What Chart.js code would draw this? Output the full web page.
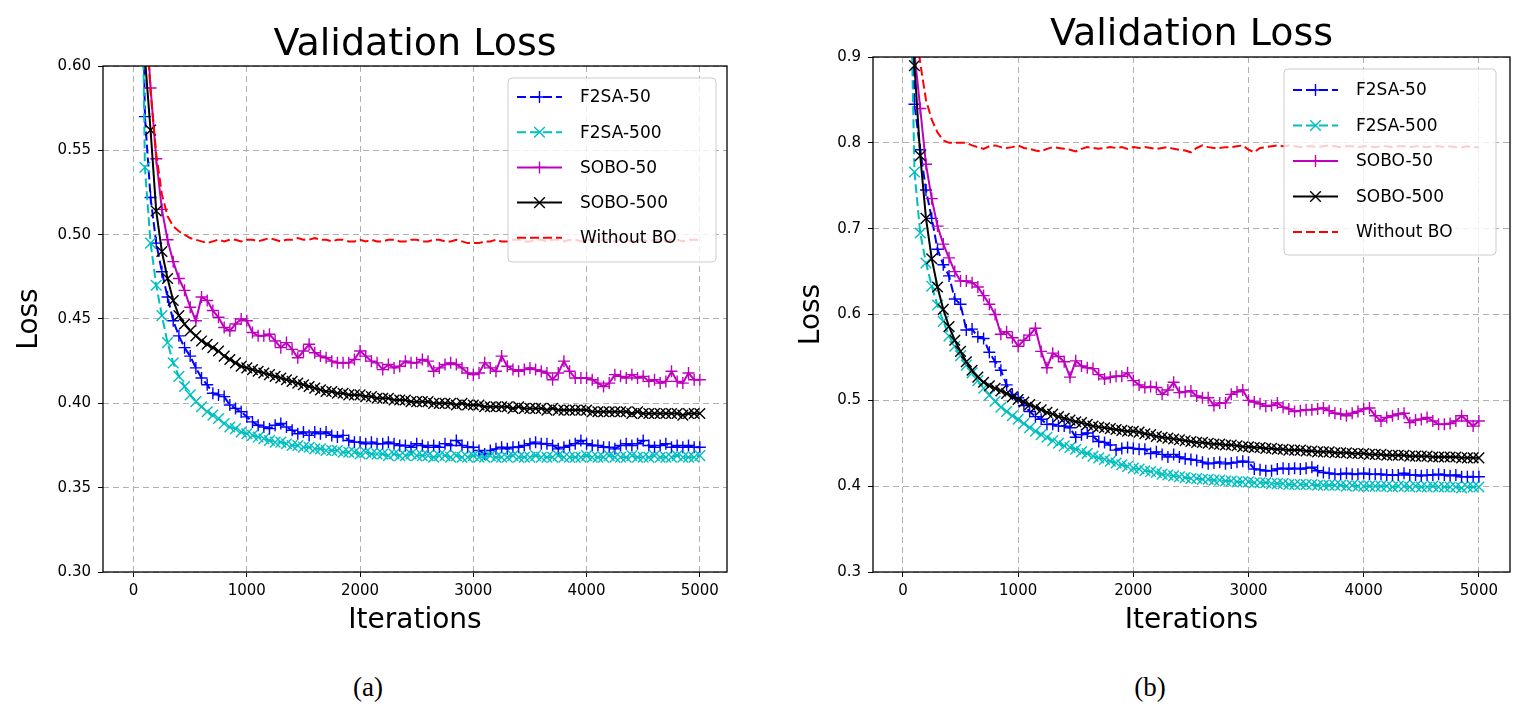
<!DOCTYPE html>
<html>
<head>
<meta charset="utf-8">
<script src="https://cdn.jsdelivr.net/npm/chart.js@4.4.1/dist/chart.umd.min.js"></script>
<style>
  body { margin: 0; background: #fff; width: 1522px; height: 706px; position: relative; overflow: hidden; }
  .box { position: absolute; top: 0; height: 660px; }
  #boxA { left: 0; width: 760px; }
  #boxB { left: 770px; width: 752px; }
  .cap { position: absolute; top: 674px; line-height: 27px; font-family: 'Liberation Serif', serif; font-size: 27px; transform: translateX(-50%); }
</style>
</head>
<body>
<div class="box" id="boxA"><canvas id="chartA"></canvas></div>
<div class="box" id="boxB"><canvas id="chartB"></canvas></div>
<div class="cap" style="left:368px">(a)</div>
<div class="cap" style="left:1150px">(b)</div>
<script>
// x values (iterations), shared by every series
const iterations = [
  50,100,150,200,250,300,350,400,450,500,
  550,600,650,700,750,800,850,900,950,1000,
  1050,1100,1150,1200,1250,1300,1350,1400,1450,1500,
  1550,1600,1650,1700,1750,1800,1850,1900,1950,2000,
  2050,2100,2150,2200,2250,2300,2350,2400,2450,2500,
  2550,2600,2650,2700,2750,2800,2850,2900,2950,3000,
  3050,3100,3150,3200,3250,3300,3350,3400,3450,3500,
  3550,3600,3650,3700,3750,3800,3850,3900,3950,4000,
  4050,4100,4150,4200,4250,4300,4350,4400,4450,4500,
  4550,4600,4650,4700,4750,4800,4850,4900,4950,5000
];
const xTicks = [0, 1000, 2000, 3000, 4000, 5000];
const xLabels = ['0', '1000', '2000', '3000', '4000', '5000'];
const aYTicks = [0.30, 0.35, 0.40, 0.45, 0.50, 0.55, 0.60];
const aYLabels = ['0.30', '0.35', '0.40', '0.45', '0.50', '0.55', '0.60'];
const bYTicks = [0.3, 0.4, 0.5, 0.6, 0.7, 0.8, 0.9];
const bYLabels = ['0.3', '0.4', '0.5', '0.6', '0.7', '0.8', '0.9'];
const seriesNames = ['F2SA-50', 'F2SA-500', 'SOBO-50', 'SOBO-500', 'Without BO'];

// ---- chart (a) ----
const aF2SA50 = [
  0.800,0.570,0.522,0.495,0.478,0.463,0.449,0.440,0.433,0.428,
  0.421,0.415,0.411,0.406,0.405,0.404,0.399,0.397,0.395,0.392,
  0.389,0.387,0.386,0.385,0.387,0.388,0.386,0.384,0.382,0.383,
  0.381,0.383,0.382,0.383,0.381,0.380,0.381,0.378,0.377,0.377,
  0.376,0.377,0.376,0.376,0.377,0.376,0.375,0.375,0.374,0.376,
  0.375,0.374,0.375,0.374,0.376,0.375,0.378,0.375,0.374,0.374,
  0.372,0.370,0.372,0.373,0.374,0.373,0.374,0.374,0.375,0.376,
  0.377,0.376,0.376,0.375,0.373,0.374,0.375,0.376,0.378,0.376,
  0.375,0.375,0.374,0.374,0.373,0.375,0.376,0.375,0.376,0.378,
  0.375,0.374,0.375,0.376,0.374,0.375,0.374,0.375,0.374,0.374
];
const aF2SA500 = [
  0.780,0.540,0.495,0.470,0.452,0.436,0.424,0.416,0.410,0.405,
  0.401,0.398,0.395,0.393,0.391,0.388,0.386,0.385,0.383,0.382,
  0.381,0.380,0.379,0.378,0.377,0.377,0.376,0.375,0.375,0.374,
  0.374,0.373,0.373,0.372,0.372,0.372,0.371,0.371,0.371,0.370,
  0.371,0.370,0.370,0.370,0.369,0.370,0.369,0.369,0.370,0.369,
  0.369,0.369,0.368,0.369,0.369,0.368,0.369,0.368,0.368,0.369,
  0.368,0.368,0.369,0.368,0.368,0.368,0.369,0.368,0.368,0.368,
  0.369,0.368,0.368,0.368,0.369,0.368,0.368,0.368,0.368,0.369,
  0.368,0.368,0.368,0.369,0.368,0.368,0.368,0.369,0.368,0.368,
  0.368,0.369,0.368,0.368,0.368,0.369,0.368,0.368,0.368,0.369
];
const aSOBO50 = [
  0.800,0.640,0.587,0.545,0.515,0.497,0.484,0.474,0.467,0.457,
  0.449,0.463,0.461,0.455,0.451,0.445,0.443,0.447,0.450,0.449,
  0.442,0.440,0.440,0.441,0.437,0.433,0.436,0.432,0.427,0.431,
  0.435,0.430,0.428,0.427,0.425,0.424,0.424,0.424,0.426,0.431,
  0.428,0.425,0.424,0.420,0.423,0.421,0.422,0.425,0.424,0.424,
  0.426,0.425,0.419,0.421,0.423,0.424,0.423,0.421,0.418,0.417,
  0.418,0.424,0.421,0.419,0.428,0.422,0.420,0.419,0.420,0.421,
  0.420,0.419,0.418,0.414,0.418,0.425,0.419,0.415,0.415,0.415,
  0.414,0.412,0.410,0.412,0.417,0.416,0.415,0.417,0.415,0.416,
  0.413,0.414,0.412,0.413,0.419,0.413,0.412,0.418,0.414,0.414
];
const aSOBO500 = [
  0.760,0.605,0.562,0.514,0.490,0.474,0.461,0.452,0.447,0.443,
  0.440,0.437,0.435,0.433,0.431,0.428,0.426,0.424,0.422,0.421,
  0.420,0.419,0.418,0.417,0.416,0.415,0.414,0.413,0.412,0.411,
  0.410,0.409,0.408,0.407,0.407,0.406,0.406,0.405,0.405,0.405,
  0.404,0.404,0.403,0.403,0.403,0.402,0.402,0.402,0.401,0.401,
  0.401,0.401,0.400,0.400,0.400,0.400,0.399,0.400,0.399,0.399,
  0.399,0.398,0.398,0.398,0.398,0.398,0.397,0.398,0.397,0.397,
  0.397,0.397,0.396,0.397,0.396,0.396,0.396,0.396,0.396,0.396,
  0.395,0.395,0.395,0.395,0.395,0.395,0.395,0.394,0.395,0.394,
  0.394,0.394,0.394,0.394,0.394,0.394,0.393,0.394,0.394,0.394
];
const aWithoutBO = [
  0.780,0.640,0.585,0.548,0.524,0.511,0.505,0.502,0.500,0.498,
  0.497,0.496,0.495,0.496,0.497,0.496,0.497,0.497,0.496,0.497,
  0.497,0.496,0.497,0.498,0.497,0.496,0.497,0.497,0.498,0.497,
  0.497,0.498,0.497,0.497,0.496,0.497,0.497,0.496,0.496,0.497,
  0.496,0.497,0.496,0.496,0.497,0.497,0.496,0.496,0.497,0.497,
  0.496,0.496,0.497,0.497,0.496,0.496,0.497,0.496,0.495,0.495,
  0.495,0.496,0.496,0.497,0.496,0.496,0.497,0.497,0.496,0.496,
  0.497,0.497,0.496,0.497,0.497,0.496,0.497,0.497,0.496,0.497,
  0.497,0.496,0.497,0.497,0.496,0.497,0.497,0.496,0.497,0.497,
  0.496,0.497,0.497,0.496,0.497,0.497,0.496,0.497,0.497,0.497
];

// ---- chart (b) ----
const bF2SA50 = [
  1.100,0.845,0.792,0.745,0.712,0.676,0.658,0.645,0.618,0.612,
  0.582,0.583,0.574,0.572,0.556,0.545,0.535,0.518,0.507,0.503,
  0.494,0.487,0.481,0.478,0.472,0.472,0.470,0.470,0.468,0.457,
  0.460,0.462,0.458,0.452,0.451,0.448,0.442,0.444,0.445,0.444,
  0.443,0.443,0.438,0.440,0.437,0.434,0.437,0.434,0.432,0.431,
  0.430,0.428,0.426,0.427,0.428,0.426,0.427,0.428,0.429,0.428,
  0.420,0.419,0.418,0.418,0.420,0.421,0.420,0.421,0.420,0.421,
  0.422,0.418,0.416,0.415,0.414,0.414,0.415,0.414,0.414,0.415,
  0.414,0.414,0.414,0.413,0.413,0.413,0.415,0.413,0.413,0.412,
  0.413,0.413,0.414,0.413,0.412,0.413,0.411,0.411,0.411,0.411
];
const bF2SA500 = [
  1.100,0.766,0.695,0.660,0.633,0.611,0.592,0.575,0.563,0.552,
  0.541,0.532,0.523,0.514,0.506,0.499,0.492,0.487,0.482,0.478,
  0.473,0.468,0.464,0.460,0.457,0.453,0.450,0.447,0.445,0.443,
  0.440,0.438,0.435,0.433,0.431,0.429,0.427,0.425,0.423,0.421,
  0.420,0.418,0.417,0.416,0.414,0.413,0.412,0.411,0.410,0.409,
  0.409,0.408,0.408,0.407,0.407,0.406,0.406,0.405,0.405,0.405,
  0.404,0.404,0.404,0.403,0.403,0.403,0.402,0.402,0.402,0.402,
  0.402,0.401,0.401,0.401,0.401,0.401,0.400,0.401,0.400,0.400,
  0.400,0.400,0.400,0.400,0.399,0.400,0.400,0.399,0.400,0.399,
  0.399,0.400,0.399,0.399,0.399,0.399,0.398,0.399,0.399,0.399
];
const bSOBO50 = [
  1.100,0.905,0.840,0.775,0.735,0.703,0.682,0.666,0.650,0.639,
  0.639,0.637,0.632,0.622,0.612,0.600,0.577,0.580,0.573,0.563,
  0.570,0.576,0.584,0.557,0.538,0.555,0.551,0.545,0.527,0.546,
  0.540,0.538,0.537,0.530,0.525,0.527,0.528,0.528,0.532,0.523,
  0.518,0.515,0.516,0.515,0.507,0.512,0.521,0.509,0.510,0.511,
  0.505,0.503,0.503,0.494,0.497,0.497,0.507,0.510,0.512,0.500,
  0.498,0.496,0.493,0.494,0.497,0.492,0.490,0.487,0.488,0.489,
  0.489,0.490,0.491,0.488,0.485,0.484,0.482,0.485,0.487,0.490,
  0.491,0.482,0.476,0.480,0.482,0.484,0.485,0.474,0.477,0.478,
  0.480,0.476,0.472,0.472,0.473,0.476,0.482,0.476,0.470,0.476
];
const bSOBO500 = [
  1.050,0.890,0.785,0.712,0.665,0.632,0.606,0.586,0.570,0.557,
  0.545,0.535,0.527,0.521,0.517,0.514,0.511,0.508,0.504,0.501,
  0.498,0.495,0.492,0.489,0.486,0.484,0.481,0.479,0.477,0.475,
  0.474,0.472,0.470,0.469,0.468,0.467,0.466,0.465,0.464,0.464,
  0.463,0.461,0.460,0.458,0.457,0.456,0.455,0.454,0.453,0.452,
  0.451,0.451,0.450,0.449,0.449,0.448,0.448,0.447,0.446,0.446,
  0.445,0.445,0.444,0.444,0.443,0.443,0.442,0.442,0.442,0.441,
  0.441,0.440,0.440,0.440,0.439,0.439,0.439,0.438,0.438,0.438,
  0.437,0.437,0.437,0.436,0.436,0.436,0.436,0.435,0.435,0.435,
  0.435,0.434,0.434,0.434,0.434,0.434,0.433,0.433,0.433,0.433
];
const bWithoutBO = [
  1.100,0.950,0.893,0.850,0.827,0.812,0.803,0.800,0.800,0.800,
  0.800,0.797,0.795,0.793,0.796,0.797,0.795,0.794,0.795,0.797,
  0.794,0.793,0.791,0.790,0.793,0.795,0.794,0.793,0.792,0.790,
  0.793,0.795,0.794,0.793,0.794,0.795,0.794,0.795,0.793,0.795,
  0.794,0.795,0.794,0.793,0.794,0.795,0.793,0.792,0.791,0.789,
  0.794,0.797,0.795,0.794,0.794,0.795,0.795,0.796,0.797,0.792,
  0.789,0.794,0.795,0.796,0.797,0.796,0.797,0.796,0.795,0.796,
  0.796,0.795,0.796,0.797,0.796,0.795,0.796,0.796,0.795,0.796,
  0.796,0.795,0.796,0.796,0.795,0.796,0.796,0.795,0.796,0.796,
  0.795,0.796,0.796,0.795,0.796,0.795,0.795,0.796,0.795,0.795
];

Chart.defaults.font.family = 'DejaVu Sans';
Chart.defaults.color = '#000';

function points(vals) {
  return iterations.map((x, i) => ({ x: x, y: vals[i] }));
}

function makeDatasets(f50, f500, s50, s500, wbo) {
  const base = { borderWidth: 2, pointBorderWidth: 1.4, pointBackgroundColor: 'rgba(0,0,0,0)', tension: 0, fill: false };
  return [
    Object.assign({}, base, { label: seriesNames[0], data: points(f50), borderColor: '#0000ff', pointBorderColor: '#0000ff', borderDash: [9, 4], pointStyle: 'cross', pointRadius: 6, order: 5 }),
    Object.assign({}, base, { label: seriesNames[1], data: points(f500), borderColor: '#00bfbf', pointBorderColor: '#00bfbf', borderDash: [9, 4], pointStyle: 'crossRot', pointRadius: 7.5, order: 4 }),
    Object.assign({}, base, { label: seriesNames[2], data: points(s50), borderColor: '#bf00bf', pointBorderColor: '#bf00bf', pointStyle: 'cross', pointRadius: 6, order: 3 }),
    Object.assign({}, base, { label: seriesNames[3], data: points(s500), borderColor: '#000000', pointBorderColor: '#000000', pointStyle: 'crossRot', pointRadius: 7.5, order: 2 }),
    Object.assign({}, base, { label: seriesNames[4], data: points(wbo), borderColor: '#ff0000', borderDash: [9, 4], pointRadius: 0, order: 1 })
  ];
}

function drawMarker(ctx, style, r, x, y) {
  ctx.beginPath();
  if (style === 'cross') {
    ctx.moveTo(x - r, y); ctx.lineTo(x + r, y);
    ctx.moveTo(x, y - r); ctx.lineTo(x, y + r);
  } else {
    const d = r * 0.7071;
    ctx.moveTo(x - d, y - d); ctx.lineTo(x + d, y + d);
    ctx.moveTo(x - d, y + d); ctx.lineTo(x + d, y - d);
  }
  ctx.stroke();
}

// title centred on the plot, black frame, matplotlib style legend on top of the lines
const frameLegend = {
  id: 'frameLegend',
  afterDraw(chart, args, o) {
    const { ctx, chartArea: a } = chart;
    ctx.save();
    ctx.fillStyle = '#000';
    ctx.font = '38px "DejaVu Sans"';
    ctx.textAlign = 'center';
    ctx.textBaseline = 'alphabetic';
    ctx.fillText('Validation Loss', (a.left + a.right) / 2, o.titleBase);

    ctx.strokeStyle = '#000';
    ctx.lineWidth = 1.3;
    ctx.strokeRect(a.left, a.top, a.right - a.left, a.bottom - a.top);

    const lx = a.right - o.gapRight - o.width;
    const ly = a.top + o.gapTop;
    ctx.fillStyle = 'rgba(255,255,255,0.8)';
    ctx.strokeStyle = '#cccccc';
    ctx.lineWidth = 1;
    ctx.beginPath();
    ctx.roundRect(lx, ly, o.width, o.height, 4);
    ctx.fill();
    ctx.stroke();

    ctx.font = '17px "DejaVu Sans"';
    ctx.textBaseline = 'middle';
    ctx.textAlign = 'left';
    chart.data.datasets.forEach((ds, i) => {
      const cy = ly + o.first + i * o.step;
      ctx.strokeStyle = ds.borderColor;
      ctx.lineWidth = ds.borderWidth;
      ctx.setLineDash(ds.borderDash || []);
      ctx.beginPath();
      ctx.moveTo(lx + 9, cy);
      ctx.lineTo(lx + 54, cy);
      ctx.stroke();
      ctx.setLineDash([]);
      if (ds.pointRadius > 0) {
        ctx.lineWidth = 1.4;
        drawMarker(ctx, ds.pointStyle, ds.pointRadius, lx + 31.5, cy);
      }
      ctx.fillStyle = '#000';
      ctx.fillText(ds.label, lx + 72, cy + 1);
    });
    ctx.restore();
  }
};

function makeChart(id, sets, opt) {
  return new Chart(document.getElementById(id), {
    type: 'line',
    data: { datasets: sets },
    plugins: [frameLegend],
    options: {
      responsive: true,
      maintainAspectRatio: false,
      animation: false,
      events: [],
      layout: { padding: { top: opt.padTop, left: 0, right: opt.padRight, bottom: 0 } },
      plugins: {
        legend: { display: false },
        tooltip: { enabled: false },
        title: { display: false },
        frameLegend: opt.legend
      },
      scales: {
        x: {
          type: 'linear',
          min: opt.xMin,
          max: opt.xMax,
          afterBuildTicks: s => { s.ticks = xTicks.map(v => ({ value: v })); },
          afterFit: s => { s.height = 88; },
          ticks: { autoSkip: false, maxRotation: 0, padding: 5, font: { size: 15 }, callback: (v, i) => xLabels[i] },
          grid: { color: '#b0b0b0', lineWidth: 1, tickLength: 5, tickColor: '#000', tickWidth: 1, tickBorderDash: [] },
          border: { display: false, dash: [6, 4] },
          title: { display: true, text: 'Iterations', font: { size: 28 }, padding: { top: 0, bottom: 22 } }
        },
        y: {
          type: 'linear',
          min: opt.yMin,
          max: opt.yMax,
          afterBuildTicks: s => { s.ticks = opt.yTicks.map(v => ({ value: v })); },
          afterFit: s => { s.width = 103; },
          ticks: { autoSkip: false, padding: 7, font: { size: 15 }, callback: (v, i) => opt.yLabels[i] },
          grid: { color: '#b0b0b0', lineWidth: 1, tickLength: 5, tickColor: '#000', tickWidth: 1, tickBorderDash: [] },
          border: { display: false, dash: [6, 4] },
          title: { display: true, text: 'Loss', font: { size: 28 }, padding: { top: opt.lossPad, bottom: 0 } }
        }
      }
    }
  });
}

makeChart('chartA', makeDatasets(aF2SA50, aF2SA500, aSOBO50, aSOBO500, aWithoutBO), {
  padTop: 66, padRight: 33, lossPad: 13,
  xMin: -270, xMax: 5240, yMin: 0.30, yMax: 0.60, yTicks: aYTicks, yLabels: aYLabels,
  legend: { titleBase: 55, width: 208, height: 184, gapRight: 11, gapTop: 12, first: 19, step: 35.2 }
});

makeChart('chartB', makeDatasets(bF2SA50, bF2SA500, bSOBO50, bSOBO500, bWithoutBO), {
  padTop: 57, padRight: 12, lossPad: 25,
  xMin: -260, xMax: 5270, yMin: 0.3, yMax: 0.9, yTicks: bYTicks, yLabels: bYLabels,
  legend: { titleBase: 45, width: 212, height: 186, gapRight: 14, gapTop: 12, first: 21, step: 35.5 }
});
</script>
</body>
</html>
